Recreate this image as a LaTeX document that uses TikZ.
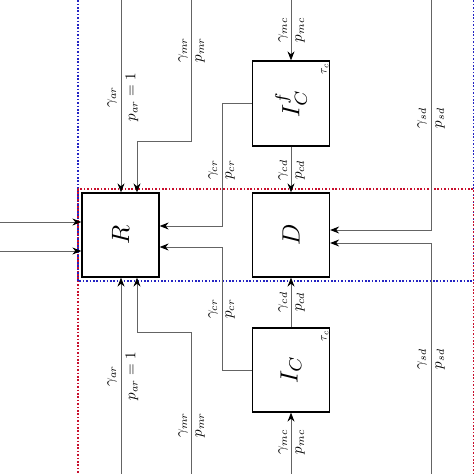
\documentclass[tikz,border=0pt]{standalone}
\usetikzlibrary{arrows.meta}
\definecolor{lgray}{RGB}{100,100,100}
\definecolor{dblue}{RGB}{35,35,195}
\definecolor{dred}{RGB}{200,15,45}
\tikzset{
  blk/.style={draw=black, line width=1.3pt, minimum width=77pt, minimum height=84pt, inner sep=0pt},
  conn/.style={draw=lgray, line width=0.8pt},
  arr/.style={conn, -{Stealth[length=9pt,width=7pt,inset=3pt,color=black]}},
  lbl/.style={rotate=90, inner sep=0pt, scale=1.5},
  tau/.style={rotate=90, inner sep=0pt, scale=1.2},
  bluebox/.style={draw=dblue, line width=1.6pt, dash pattern=on 1.6pt off 1.8pt},
  redbox/.style={draw=dred, line width=1.6pt, dash pattern=on 1.6pt off 1.8pt},
}
\begin{document}
\begin{tikzpicture}[x=1pt,y=-1pt]
\useasboundingbox (0,0) rectangle (474,474);
% boxes
\node[blk] (R) at (120.5,235) {\rotatebox{90}{\scalebox{2.5}{$R$}}};
\node[blk] (D) at (291,235) {\rotatebox{90}{\scalebox{2.5}{$D$}}};
\node[blk, minimum height=85pt] (IF) at (291,103.5) {\rotatebox{90}{\scalebox{2.5}{$I_C^f$}}};
\node[blk] (IC) at (291,370) {\rotatebox{90}{\scalebox{2.5}{$I_C$}}};
\node[tau] (tauF) at (325,69) {$\tau_c$};
\node[tau] (tauC) at (325,336) {$\tau_c$};
% free ends
\coordinate (arT) at (121,-3);
\coordinate (arB) at (121,477);
\coordinate (mrT) at (191,-3);
\coordinate (mrB) at (191,477);
\coordinate (mcT) at (291,-3);
\coordinate (mcB) at (291,477);
\coordinate (sdT) at (431,-3);
\coordinate (sdB) at (431,477);
\coordinate (inA) at (-3,222);
\coordinate (inB) at (-3,251);
% dotted regions
\draw[bluebox] (78,-10) rectangle (473.5,281);
\draw[redbox] (78,189) rectangle (473.5,484);
% connectors
\draw[arr] (arT) -- (arT |- R.north);
\draw[arr] (arB) -- (arB |- R.south);
\draw[arr] (mrT) -- (191,141) -- (137,141) -- ([xshift=16.5]R.north);
\draw[arr] (mrB) -- (191,332) -- (137,332) -- ([xshift=16.5]R.south);
\draw[arr] (IF.west) -- (222,103.5) -- (222,226) -- ([yshift=9]R.east);
\draw[arr] (IC.west) -- (222,370) -- (222,247) -- ([yshift=-12]R.east);
\draw[arr] (mcT) -- (IF.north);
\draw[arr] (mcB) -- (IC.south);
\draw[arr] (IF.south) -- (D.north);
\draw[arr] (IC.north) -- (D.south);
\draw[arr] (sdT) -- (431,230) -- ([yshift=5]D.east);
\draw[arr] (sdB) -- (431,243) -- ([yshift=-8]D.east);
\draw[arr] (inA) -- ([yshift=13]R.west);
\draw[arr] (inB) -- ([yshift=-16]R.west);
% labels upper
\node[lbl] (l1) at (112,97) {$\gamma_{ar}$};
\node[lbl] (l2) at (132,97) {$p_{ar}=1$};
\node[lbl] (l3) at (183,50) {$\gamma_{mr}$};
\node[lbl] (l4) at (200,50) {$p_{mr}$};
\node[lbl] (l5) at (213,170) {$\gamma_{cr}$};
\node[lbl] (l6) at (230,170) {$p_{cr}$};
\node[lbl] (l7) at (283,30) {$\gamma_{mc}$};
\node[lbl] (l8) at (300,30) {$p_{mc}$};
\node[lbl] (l9) at (283,170) {$\gamma_{cd}$};
\node[lbl] (l10) at (300,170) {$p_{cd}$};
\node[lbl] (l11) at (422,118) {$\gamma_{sd}$};
\node[lbl] (l12) at (440,118) {$p_{sd}$};
% labels lower
\node[lbl] (m1) at (112,376) {$\gamma_{ar}$};
\node[lbl] (m2) at (132,376) {$p_{ar}=1$};
\node[lbl] (m3) at (183,425) {$\gamma_{mr}$};
\node[lbl] (m4) at (200,425) {$p_{mr}$};
\node[lbl] (m5) at (213,309) {$\gamma_{cr}$};
\node[lbl] (m6) at (230,309) {$p_{cr}$};
\node[lbl] (m7) at (283,442) {$\gamma_{mc}$};
\node[lbl] (m8) at (300,442) {$p_{mc}$};
\node[lbl] (m9) at (283,302) {$\gamma_{cd}$};
\node[lbl] (m10) at (300,302) {$p_{cd}$};
\node[lbl] (m11) at (422,359) {$\gamma_{sd}$};
\node[lbl] (m12) at (440,359) {$p_{sd}$};
\end{tikzpicture}
\end{document}
